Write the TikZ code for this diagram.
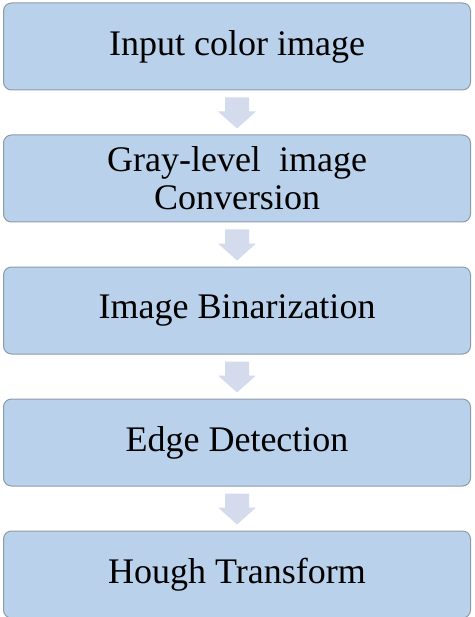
\documentclass[tikz,border=0pt]{standalone}
\usepackage{fontspec}
\setmainfont{Liberation Serif}
\usetikzlibrary{positioning,calc}

\definecolor{boxfill}{HTML}{B9D1EA}
\definecolor{boxline}{HTML}{8C9BAA}
\definecolor{arrowfill}{HTML}{D3DBEC}

\begin{document}
\begin{tikzpicture}[x=1pt,y=1pt,%
  stage/.style={draw=boxline, line width=1pt, fill=boxfill, rounded corners=8pt,%
    minimum width=467pt, minimum height=87pt, inner sep=0pt, align=center,%
    font=\fontsize{36}{38}\selectfont},%
  flowarrow/.style={fill=arrowfill}%
  ]%
  \useasboundingbox (0,0) rectangle (474,-617);%
  \node[stage] (input) at (237,-46.5) {Input color image};%
  \node[stage, below=44pt of input] (gray) {Gray-level\ \ image\\Conversion};%
  \node[stage, below=44pt of gray] (binar) {Image Binarization};%
  \node[stage, below=44pt of binar] (edge) {Edge Detection};%
  \node[stage, below=44pt of edge] (hough) {Hough Transform};%
  \foreach \a/\b in {input/gray,gray/binar,binar/edge,edge/hough}%
    \fill[flowarrow, shift={($(\a.south)!0.5!(\b.north)$)}]%
      (-12,15) -- (12,15) -- (12,1) -- (19,1) -- (0,-16) -- (-19,1) -- (-12,1) -- cycle;%
\end{tikzpicture}
\end{document}
